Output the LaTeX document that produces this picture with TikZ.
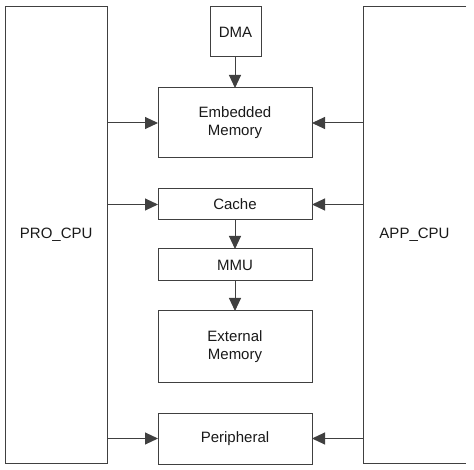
\documentclass[tikz,border=0pt]{standalone}
\usepackage{fontspec}
\setmainfont{Liberation Sans}
\usetikzlibrary{arrows.meta}
\begin{document}
\begin{tikzpicture}[x=1pt,y=-1pt,
  box/.style={draw=black!75, line width=1pt, inner sep=0pt, outer sep=0pt, font=\fontsize{15}{18}\selectfont, align=center, text=black!90},
  conn/.style={draw=black!75, line width=1pt, -{Triangle[length=13pt,width=12pt]}}]
\useasboundingbox (0,0) rectangle (474,470);
% CPUs
\node[box, minimum width=101.5pt, minimum height=456pt] (pro) at (56.25,235) {PRO\_CPU};
\node[inner sep=0pt, outer sep=0pt, minimum width=103pt, minimum height=456pt, font=\fontsize{15}{18}\selectfont, text=black!90] (app) at (414.5,235) {APP\_CPU};
\draw[draw=black!75, line width=1pt] (app.north east) -- (app.north west) -- (app.south west) -- (app.south east);
% boxes
\node[box, minimum width=51pt, minimum height=50pt] (dma) at (235.5,32) {DMA};
\node[box, minimum width=154pt, minimum height=70pt] (emb) at (235,123) {Embedded\\Memory};
\node[box, minimum width=154pt, minimum height=31pt] (cache) at (235,204.5) {Cache};
\node[box, minimum width=154pt, minimum height=32pt] (mmu) at (235,265) {MMU};
\node[box, minimum width=154pt, minimum height=71pt] (ext) at (235,346.5) {External\\Memory};
\node[box, minimum width=154pt, minimum height=51pt] (per) at (235,438.5) {Peripheral};
% vertical connectors
\draw[conn] (dma.south -| emb.north) -- (emb.north);
\draw[conn] (cache.south) -- (mmu.north);
\draw[conn] (mmu.south) -- (ext.north);
% horizontal connectors
\draw[conn] (pro.east |- emb.west) -- (emb.west);
\draw[conn] (pro.east |- cache.west) -- (cache.west);
\draw[conn] (pro.east |- per.west) -- (per.west);
\draw[conn] (app.west |- emb.east) -- (emb.east);
\draw[conn] (app.west |- cache.east) -- (cache.east);
\draw[conn] (app.west |- per.east) -- (per.east);
\end{tikzpicture}
\end{document}
